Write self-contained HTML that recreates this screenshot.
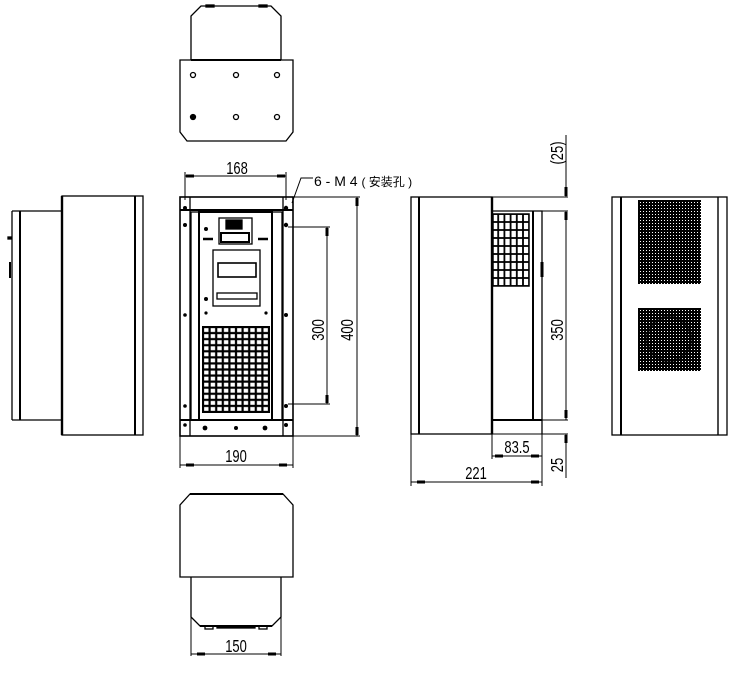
<!DOCTYPE html>
<html><head><meta charset="utf-8"><style>
html,body{margin:0;padding:0;background:#fff;}
svg{display:block;}
text{font-family:"Liberation Sans","Noto Sans CJK SC",sans-serif;fill:#000;}
</style></head><body>
<svg width="746" height="673" viewBox="0 0 746 673" xmlns="http://www.w3.org/2000/svg">
<defs>
<pattern id="g1" x="203" y="327" width="6.6" height="6.07" patternUnits="userSpaceOnUse">
<rect x="0" y="0" width="6.6" height="6.07" fill="none" stroke="#000" stroke-width="2.2"/>
</pattern>
<pattern id="g2" x="492" y="214" width="6.2" height="8" patternUnits="userSpaceOnUse">
<rect x="0" y="0" width="6.2" height="8" fill="none" stroke="#000" stroke-width="1.8"/>
</pattern>
<pattern id="dots" x="0" y="0" width="3" height="3" patternUnits="userSpaceOnUse">
<rect width="3" height="3" fill="#000"/><rect x="1" y="1" width="1" height="1" fill="#fff"/>
</pattern>
</defs>
<g fill="none" stroke="#000" stroke-width="1.3">
<!-- top view -->
<path d="M191,60 V16 L201,6 H271 L281,16 V60"/>
<line x1="191" y1="60" x2="281" y2="60" stroke-width="2"/>
<path d="M180,60 H293 V132 L286,141 H187 L180,132 Z"/>
<rect x="206" y="5" width="8" height="2" fill="#000"/><rect x="259" y="5" width="8" height="2" fill="#000"/>
<circle cx="193" cy="75" r="2.5"/><circle cx="236" cy="75" r="2.5"/><circle cx="277" cy="75" r="2.5"/>
<circle cx="193" cy="117" r="2.5" fill="#000"/><circle cx="236" cy="117" r="2.5"/><circle cx="277" cy="117" r="2.5"/>

<!-- left view -->
<path d="M12,211 H62 M12,420 H62 M12,211 V420"/>
<line x1="20" y1="211" x2="20" y2="420" stroke-width="2"/>
<rect x="62" y="196" width="81" height="239"/>
<line x1="62" y1="196" x2="62" y2="435" stroke-width="2.4"/>
<line x1="135" y1="196" x2="135" y2="435" stroke-width="2"/>
<rect x="8" y="237" width="3" height="2" fill="#000"/>
<line x1="10" y1="262" x2="10" y2="278" stroke-width="2"/>

<!-- front view -->
<rect x="180" y="197" width="113" height="239" stroke-width="1.6"/>
<line x1="190" y1="197" x2="190" y2="436"/><line x1="283" y1="197" x2="283" y2="436"/>
<line x1="180" y1="210" x2="293" y2="210" stroke-width="2"/>
<line x1="180" y1="420" x2="293" y2="420" stroke-width="2"/>
<rect x="191" y="212" width="91" height="208"/>
<rect x="199" y="212" width="73" height="208" stroke-width="2"/>
<rect x="219" y="218" width="33" height="26"/>
<rect x="226" y="220" width="16" height="9" fill="#000"/>
<rect x="221" y="233" width="28" height="9" stroke-width="2"/>
<rect x="213" y="250" width="47" height="56"/>
<rect x="218" y="263" width="38" height="14" stroke-width="1.6"/>
<rect x="217" y="293" width="40" height="6"/>
<rect x="203" y="327" width="66" height="85" fill="url(#g1)" stroke-width="2"/>
<line x1="203" y1="239" x2="213" y2="239" stroke-width="2.5"/><line x1="258" y1="239" x2="268" y2="239" stroke-width="2.5"/>
<g fill="#000" stroke="none">
<circle cx="206" cy="229" r="2"/><circle cx="206" cy="299" r="2"/><circle cx="206" cy="313" r="1.6"/><circle cx="266" cy="313" r="1.6"/>
<circle cx="185" cy="208" r="2"/><circle cx="185" cy="225" r="2"/><circle cx="185" cy="315" r="1.8"/><circle cx="185" cy="406" r="1.8"/><circle cx="185" cy="425" r="1.8"/>
<circle cx="286" cy="208" r="2.2"/><circle cx="286" cy="225" r="2.2"/><circle cx="286" cy="315" r="2"/><circle cx="286" cy="406" r="2"/><circle cx="286" cy="425" r="2"/>
<circle cx="205" cy="428" r="2.4"/><circle cx="236" cy="428" r="2"/><circle cx="265" cy="428" r="2.4"/>
</g>
<!-- front dims -->
<line x1="185" y1="176" x2="286" y2="176" stroke-width="1"/>
<rect x="186" y="174.5" width="8" height="3" fill="#000" stroke="none"/><rect x="277" y="174.5" width="8" height="3" fill="#000" stroke="none"/>
<line x1="185" y1="172" x2="185" y2="200" stroke-width="1"/><line x1="286" y1="172" x2="286" y2="200" stroke-width="1"/>
<line x1="180" y1="436" x2="180" y2="468" stroke-width="1"/><line x1="293" y1="436" x2="293" y2="468" stroke-width="1"/>
<line x1="180" y1="465" x2="293" y2="465" stroke-width="1"/>
<rect x="186" y="463.5" width="8" height="3" fill="#000" stroke="none"/><rect x="279" y="463.5" width="8" height="3" fill="#000" stroke="none"/>
<line x1="288" y1="227" x2="330" y2="227" stroke-width="1"/><line x1="288" y1="404" x2="330" y2="404" stroke-width="1"/>
<line x1="327" y1="227" x2="327" y2="404" stroke-width="1"/>
<rect x="325.5" y="228" width="3" height="8" fill="#000" stroke="none"/><rect x="325.5" y="395" width="3" height="8" fill="#000" stroke="none"/>
<line x1="293" y1="197" x2="360" y2="197" stroke-width="1"/><line x1="293" y1="436" x2="360" y2="436" stroke-width="1"/>
<line x1="357" y1="197" x2="357" y2="436" stroke-width="1"/>
<rect x="355.5" y="198" width="3" height="8" fill="#000" stroke="none"/><rect x="355.5" y="427" width="3" height="8" fill="#000" stroke="none"/>
<polyline points="292,203 301,178 313,178" stroke-width="1"/>

<!-- side view -->
<rect x="411" y="197" width="81" height="237"/>
<line x1="419" y1="197" x2="419" y2="434" stroke-width="2"/>
<line x1="492" y1="197" x2="492" y2="434" stroke-width="2.4"/>
<path d="M492,211 H542 V434"/>
<line x1="533" y1="211" x2="533" y2="420" stroke-width="2"/>
<line x1="492" y1="420" x2="542" y2="420" stroke-width="2"/>
<rect x="493" y="214" width="36" height="72" fill="url(#g2)" stroke-width="1.5"/>
<line x1="542" y1="262" x2="542" y2="277" stroke-width="3"/>
<!-- side dims -->
<line x1="492" y1="197" x2="568" y2="197" stroke-width="1"/>
<line x1="566" y1="135" x2="566" y2="197" stroke-width="1"/>
<rect x="564.5" y="187" width="3" height="9" fill="#000" stroke="none"/>
<line x1="542" y1="211" x2="568" y2="211" stroke-width="1"/><line x1="542" y1="420" x2="568" y2="420" stroke-width="1"/>
<line x1="566" y1="211" x2="566" y2="420" stroke-width="1"/>
<rect x="564.5" y="212" width="3" height="8" fill="#000" stroke="none"/><rect x="564.5" y="410" width="3" height="8" fill="#000" stroke="none"/>
<line x1="411" y1="434" x2="568" y2="434" stroke-width="1"/>
<line x1="566" y1="434" x2="566" y2="478" stroke-width="1"/>
<rect x="564.5" y="435" width="3" height="8" fill="#000" stroke="none"/>
<line x1="492" y1="434" x2="492" y2="459" stroke-width="1"/>
<line x1="542" y1="420" x2="542" y2="486" stroke-width="1"/>
<line x1="411" y1="434" x2="411" y2="486" stroke-width="1"/>
<line x1="492" y1="456" x2="542" y2="456" stroke-width="1"/>
<rect x="495" y="454.5" width="8" height="3" fill="#000" stroke="none"/><rect x="531" y="454.5" width="8" height="3" fill="#000" stroke="none"/>
<line x1="411" y1="482" x2="542" y2="482" stroke-width="1"/>
<rect x="417" y="480.5" width="8" height="3" fill="#000" stroke="none"/><rect x="531" y="480.5" width="8" height="3" fill="#000" stroke="none"/>

<!-- back view -->
<rect x="612" y="197" width="115" height="238"/>
<line x1="621" y1="197" x2="621" y2="435" stroke-width="2"/>
<line x1="718" y1="197" x2="718" y2="435" stroke-width="1.4"/>
<rect x="638" y="200" width="63" height="84" fill="url(#dots)" stroke="none"/>
<rect x="638" y="308" width="63" height="63" fill="url(#dots)" stroke="none"/>
<circle cx="669" cy="339" r="22" stroke-width="3" opacity="0.6"/>

<!-- bottom view -->
<path d="M180,577 V505 L190,494 H283 L293,505 V577 Z"/>
<line x1="190" y1="494" x2="283" y2="494" stroke-width="2"/>
<path d="M191,577 V617 L200,626 H272 L281,617 V577"/>
<line x1="200" y1="626" x2="272" y2="626" stroke-width="2"/>
<rect x="205" y="626" width="8" height="3"/><rect x="217" y="626" width="38" height="2" fill="#000"/><rect x="259" y="626" width="8" height="3"/>
<line x1="191" y1="617" x2="191" y2="656" stroke-width="1"/><line x1="281" y1="617" x2="281" y2="656" stroke-width="1"/>
<line x1="191" y1="654" x2="281" y2="654" stroke-width="1"/>
<rect x="197" y="652.5" width="8" height="3" fill="#000" stroke="none"/><rect x="268" y="652.5" width="8" height="3" fill="#000" stroke="none"/>
</g>

<g font-size="18" text-anchor="middle">
<text transform="translate(237 174) scale(0.72 1)">168</text>
<text transform="translate(236 462) scale(0.72 1)">190</text>
<text transform="translate(236 652) scale(0.72 1)">150</text>
<text transform="translate(517 453) scale(0.72 1)">83.5</text>
<text transform="translate(476 479) scale(0.72 1)">221</text>
<text transform="translate(324 330) rotate(-90) scale(0.72 1)">300</text>
<text transform="translate(353 330) rotate(-90) scale(0.72 1)">400</text>
<text transform="translate(563 330) rotate(-90) scale(0.72 1)">350</text>
<text transform="translate(563 465) rotate(-90) scale(0.72 1)">25</text>
<text transform="translate(563 153) rotate(-90) scale(0.72 1)">(25)</text>
</g>
<text x="314" y="186" font-size="14">6 - M 4 <tspan font-size="12">( 安装孔 )</tspan></text>
</svg>
</body></html>
